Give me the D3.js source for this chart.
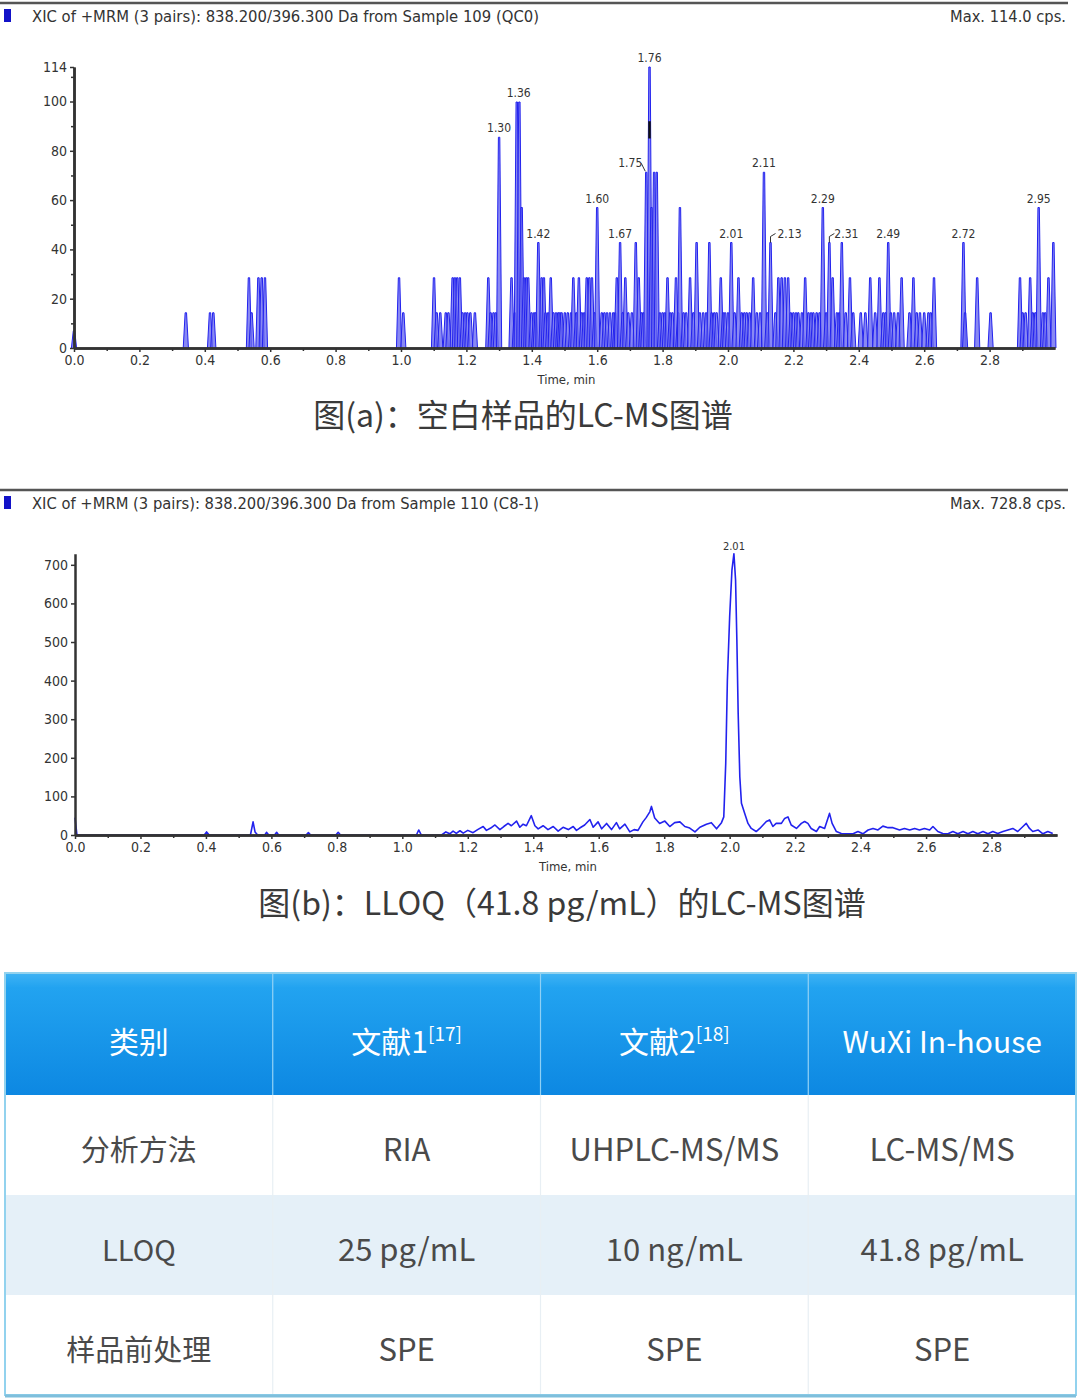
<!DOCTYPE html>
<html>
<head>
<meta charset="utf-8">
<script src="https://cdn.jsdelivr.net/npm/d3@7"></script>
<style>
body { margin: 0; background: #fff; }
svg { display: block; }
</style>
</head>
<body>
<div id="chart"></div>
<script>
// ---- chart (a): blank sample, sampled spikes [time min, intensity cps]
const blankSpikes = [
  [0.000, 7], [0.342, 14.3], [0.416, 14.3], [0.426, 14.3], [0.535, 28.5], [0.543, 14.3], [0.564, 28.5],
  [0.574, 28.5], [0.584, 28.5], [0.994, 28.5], [1.007, 14.3],
  [1.101, 28.5], [1.109, 14.3], [1.120, 14.3], [1.137, 14.3], [1.145, 14.3], [1.158, 28.5], [1.165, 28.5],
  [1.172, 28.5], [1.180, 28.5], [1.188, 14.3], [1.196, 14.3], [1.203, 14.3], [1.212, 14.3], [1.226, 14.3],
  [1.267, 28.5], [1.274, 14.3], [1.283, 14.3], [1.290, 14.3], [1.300, 85.5],
  [1.338, 28.5], [1.348, 14.3], [1.354, 99.8], [1.362, 99.8], [1.369, 57], [1.376, 28.5], [1.383, 28.5],
  [1.389, 28.5], [1.399, 14.3], [1.407, 14.3], [1.412, 14.3], [1.420, 42.8], [1.430, 28.5], [1.437, 28.5],
  [1.442, 14.3], [1.450, 14.3], [1.458, 28.5], [1.466, 14.3], [1.474, 14.3], [1.481, 14.3], [1.486, 14.3],
  [1.491, 14.3], [1.501, 14.3], [1.510, 14.3], [1.520, 14.3], [1.527, 28.5], [1.536, 14.3], [1.544, 28.5],
  [1.553, 14.3], [1.560, 14.3], [1.568, 28.5], [1.576, 28.5], [1.584, 28.5], [1.592, 14.3], [1.600, 57],
  [1.614, 14.3], [1.622, 14.3], [1.630, 14.3], [1.639, 14.3], [1.649, 14.3], [1.655, 14.3], [1.660, 28.5],
  [1.670, 42.8], [1.678, 14.3], [1.686, 28.5], [1.695, 14.3], [1.706, 14.3], [1.718, 42.8], [1.727, 28.5],
  [1.735, 14.3], [1.741, 14.3], [1.750, 71.3], [1.760, 114], [1.766, 57], [1.774, 71.3], [1.782, 71.3],
  [1.792, 14.3], [1.800, 14.3], [1.807, 14.3], [1.815, 28.5], [1.823, 14.3], [1.830, 14.3], [1.841, 28.5],
  [1.848, 14.3], [1.853, 57], [1.864, 14.3], [1.872, 14.3], [1.884, 28.5], [1.894, 14.3], [1.904, 42.8],
  [1.914, 14.3], [1.924, 14.3], [1.933, 14.3], [1.943, 42.8], [1.950, 14.3], [1.958, 14.3], [1.965, 14.3],
  [1.978, 28.5], [1.985, 14.3], [1.991, 14.3], [2.000, 14.3], [2.010, 42.8], [2.020, 14.3], [2.032, 28.5],
  [2.042, 14.3], [2.050, 14.3], [2.057, 14.3], [2.066, 14.3], [2.077, 28.5], [2.088, 14.3], [2.098, 14.3],
  [2.110, 71.3], [2.120, 14.3], [2.130, 42.8], [2.145, 14.3], [2.154, 28.5], [2.164, 28.5], [2.174, 28.5],
  [2.184, 28.5], [2.192, 14.3], [2.200, 14.3], [2.208, 14.3], [2.215, 14.3], [2.226, 14.3], [2.236, 28.5],
  [2.246, 14.3], [2.254, 14.3], [2.261, 14.3], [2.271, 14.3], [2.280, 14.3], [2.290, 57], [2.300, 14.3],
  [2.310, 42.8], [2.320, 28.5], [2.333, 14.3], [2.340, 14.3], [2.348, 42.8], [2.360, 14.3], [2.373, 28.5],
  [2.383, 14.3], [2.406, 14.3], [2.420, 14.3], [2.435, 28.5], [2.450, 14.3], [2.463, 28.5], [2.475, 14.3],
  [2.482, 14.3], [2.490, 42.8], [2.498, 14.3], [2.508, 14.3], [2.520, 14.3], [2.531, 28.5], [2.555, 14.3],
  [2.567, 28.5], [2.577, 14.3], [2.587, 14.3], [2.600, 14.3], [2.613, 14.3], [2.620, 14.3], [2.630, 28.5],
  [2.720, 42.8], [2.725, 14.3], [2.762, 28.5], [2.803, 14.3], [2.893, 28.5], [2.901, 14.3], [2.910, 14.3],
  [2.924, 28.5], [2.932, 14.3], [2.940, 14.3], [2.950, 57], [2.963, 14.3], [2.970, 14.3], [2.980, 28.5],
  [2.995, 42.8]
];
const blankPeakLabels = ["1.30", "1.36", "1.42", "1.60", "1.67", "1.75", "1.76", "2.01", "2.11",
  "2.13", "2.29", "2.31", "2.49", "2.72", "2.95"];

// ---- chart (b): LLOQ sample trace [time min, intensity cps]
const lloqTrace = [
  [0.000, 45], [0.006, 0], [0.395, 0], [0.402, 8], [0.410, 0], [0.536, 0], [0.544, 34], [0.550, 8],
  [0.558, 0], [0.580, 0], [0.585, 7], [0.592, 0], [0.610, 0], [0.616, 7], [0.622, 0], [0.706, 0],
  [0.713, 6], [0.720, 0], [0.797, 0], [0.804, 7], [0.811, 0], [1.043, 0], [1.050, 13], [1.058, 0],
  [1.120, 0], [1.133, 8], [1.145, 3], [1.155, 10], [1.165, 4], [1.176, 11], [1.186, 5], [1.200, 12],
  [1.216, 6], [1.230, 14], [1.247, 22], [1.257, 12], [1.270, 18], [1.283, 26], [1.298, 14], [1.310, 22],
  [1.323, 30], [1.333, 24], [1.349, 36], [1.359, 20], [1.369, 28], [1.379, 24], [1.394, 50], [1.405, 24],
  [1.415, 16], [1.430, 24], [1.445, 14], [1.461, 22], [1.476, 10], [1.491, 20], [1.507, 14], [1.522, 22],
  [1.532, 12], [1.542, 18], [1.557, 26], [1.573, 40], [1.583, 20], [1.598, 34], [1.609, 16], [1.624, 30],
  [1.639, 14], [1.654, 32], [1.664, 16], [1.680, 28], [1.695, 8], [1.708, 14], [1.720, 12], [1.735, 34],
  [1.745, 45], [1.756, 60], [1.761, 74], [1.771, 44], [1.786, 30], [1.802, 36], [1.817, 22], [1.832, 32],
  [1.848, 34], [1.863, 22], [1.878, 18], [1.894, 8], [1.909, 20], [1.929, 28], [1.944, 32], [1.960, 16],
  [1.975, 32], [1.982, 47], [1.988, 186], [1.993, 401], [2.000, 566], [2.007, 687], [2.013, 728.8],
  [2.018, 661], [2.022, 505], [2.026, 315], [2.031, 151], [2.036, 82], [2.046, 56], [2.056, 30],
  [2.066, 17], [2.081, 9], [2.092, 17], [2.102, 26], [2.112, 35], [2.122, 39], [2.132, 22], [2.142, 30],
  [2.158, 30], [2.168, 43], [2.178, 47], [2.188, 26], [2.204, 17], [2.219, 30], [2.229, 35], [2.239, 30],
  [2.249, 17], [2.265, 9], [2.275, 22], [2.290, 17], [2.305, 56], [2.313, 30], [2.326, 9], [2.341, 4],
  [2.356, 3], [2.377, 3], [2.392, 9], [2.407, 3], [2.423, 13], [2.438, 17], [2.453, 13], [2.468, 23],
  [2.484, 19], [2.499, 19], [2.519, 13], [2.534, 17], [2.550, 13], [2.565, 17], [2.580, 13], [2.595, 17],
  [2.611, 13], [2.621, 22], [2.636, 9], [2.651, 4], [2.667, 3], [2.682, 9], [2.697, 3], [2.713, 9],
  [2.728, 3], [2.743, 9], [2.758, 3], [2.774, 9], [2.789, 3], [2.804, 9], [2.819, 4], [2.835, 9],
  [2.850, 13], [2.865, 17], [2.880, 9], [2.896, 22], [2.906, 30], [2.916, 17], [2.926, 9], [2.942, 13],
  [2.957, 3], [2.972, 9], [2.987, 4]
];
const lloqPeakLabels = ["2.01"];

// ---- tick labels
const timeTickLabels = ["0.0", "0.2", "0.4", "0.6", "0.8", "1.0", "1.2", "1.4", "1.6", "1.8",
  "2.0", "2.2", "2.4", "2.6", "2.8"];
const blankTickLabels = ["0", "20", "40", "60", "80", "100", "114"];
const lloqTickLabels = ["0", "100", "200", "300", "400", "500", "600", "700"];

// ---- table
const tableHeads = ["类别", "文献1", "文献2", "WuXi In-house"];
const tableHeadRefs = ["", "[17]", "[18]", ""];
const tableRowNames = ["分析方法", "LLOQ", "样品前处理"];
const tableCells = [
  ["RIA", "UHPLC-MS/MS", "LC-MS/MS"],
  ["25 pg/mL", "10 ng/mL", "41.8 pg/mL"],
  ["SPE", "SPE", "SPE"]
];

const width = 1080;
const height = 1400;
const narrow = '"Liberation Sans Narrow","DejaVu Sans Condensed","Liberation Sans",sans-serif';
const cjk = '"Noto Sans CJK SC","Noto Sans",sans-serif';
const traceBlue = "#2222ee";

const svg = d3.select("#chart").append("svg").attr("width", width).attr("height", height);

// header strip above each chromatogram
function header(y, left, right) {
    svg.append("line").attr("x1", 0).attr("x2", 1068).attr("y1", y).attr("y2", y)
        .attr("stroke", "#555").attr("stroke-width", 2.5);
    svg.append("rect").attr("x", 4).attr("y", y + 6).attr("width", 7).attr("height", 13).attr("fill", "#1212c8");
    svg.append("text").attr("x", 32).attr("y", y + 19).attr("font-family", narrow).attr("font-size", 15)
        .attr("fill", "#333").attr("textLength", 507).attr("lengthAdjust", "spacingAndGlyphs").text(left);
    svg.append("text").attr("x", 950).attr("y", y + 19).attr("font-family", narrow).attr("font-size", 15)
        .attr("fill", "#333").attr("textLength", 116).attr("lengthAdjust", "spacingAndGlyphs").text(right);
}

function styleAxis(g) {
    g.select(".domain").attr("stroke", "#333").attr("stroke-width", 2.5);
    g.selectAll(".tick line").attr("stroke", "#333").attr("stroke-width", 1.5);
    g.selectAll(".tick text").attr("fill", "#333").attr("font-family", narrow).attr("font-size", 14);
}

// axes for one chromatogram
function axes(x, y, yLabels, yMinor) {
    const xAxis = d3.axisBottom(x).tickValues(timeTickLabels.map(Number))
        .tickFormat((d, i) => timeTickLabels[i]).tickSize(4).tickSizeOuter(0).tickPadding(3);
    const xMinor = d3.axisBottom(x).tickValues(timeTickLabels.map(d => +d + 0.1))
        .tickFormat("").tickSize(3).tickSizeOuter(0);
    const yAxis = d3.axisLeft(y).tickValues(yLabels.map(Number))
        .tickFormat((d, i) => yLabels[i]).tickSize(4).tickSizeOuter(0).tickPadding(3);

    const base = y(0);
    svg.append("g").attr("transform", `translate(0,${base})`).call(xMinor).call(styleAxis);
    svg.append("g").attr("transform", `translate(0,${base})`).call(xAxis).call(styleAxis);
    if (yMinor) {
        svg.append("g").attr("transform", `translate(${x(0)},0)`)
            .call(d3.axisLeft(y).tickValues(yMinor).tickFormat("").tickSize(3).tickSizeOuter(0)).call(styleAxis);
    }
    svg.append("g").attr("transform", `translate(${x(0)},0)`).call(yAxis).call(styleAxis);

    svg.append("text").attr("x", x(1.5) + 2).attr("y", base + 36).attr("text-anchor", "middle")
        .attr("font-family", narrow).attr("font-size", 13).attr("fill", "#333").text("Time, min");
}

function caption(x, y, text) {
    svg.append("text").attr("x", x).attr("y", y).attr("text-anchor", "middle")
        .attr("font-family", cjk).attr("font-size", 32).attr("fill", "#3a3a3a").text(text);
}

// ================= chart (a)
header(3, "XIC of +MRM (3 pairs): 838.200/396.300 Da  from Sample 109 (QC0)", "Max. 114.0 cps.");

const xA = d3.scaleLinear().domain([0, 3]).range([74, 1055]);
const yA = d3.scaleLinear().domain([0, 114]).range([348, 67]);

const spikeLine = d3.line();
svg.append("g").selectAll("path")
    .data(blankSpikes)
    .join("path")
    .attr("d", ([t, v]) => spikeLine([
        [xA(t) - 2.6, yA(0)], [xA(t) - 0.7, yA(v)], [xA(t) + 0.7, yA(v)], [xA(t) + 2.6, yA(0)]
    ]))
    .attr("fill", "#6c6cf0")
    .attr("fill-opacity", 0.8)
    .attr("stroke", traceBlue)
    .attr("stroke-width", 1);

// apex marker on the tallest peak
svg.append("line").attr("x1", xA(1.76)).attr("x2", xA(1.76)).attr("y1", yA(92)).attr("y2", yA(85))
    .attr("stroke", "#111").attr("stroke-width", 2.5);

axes(xA, yA, blankTickLabels, [10, 30, 50, 70, 90, 110]);

// peak labels (some pushed aside with a leader)
const leaderShift = { "1.75": -16, "2.13": 19, "2.31": 17 };
blankPeakLabels.forEach(lbl => {
    const t = +lbl;
    const near = blankSpikes.filter(d => Math.abs(d[0] - t) < 0.009);
    const top = d3.max(near, d => d[1]);
    const px = xA(t);
    const py = yA(top);
    const dx = leaderShift[lbl] || 0;
    svg.append("text").attr("x", px + dx).attr("y", py - 5).attr("text-anchor", "middle")
        .attr("font-family", narrow).attr("font-size", 12).attr("fill", "#333").text(lbl);
    if (dx < 0) {
        svg.append("path").attr("d", `M${px + dx + 11},${py - 9}L${px - 1},${py - 1}`)
            .attr("stroke", "#333").attr("fill", "none");
    } else if (dx > 0) {
        svg.append("path").attr("d", `M${px},${py}L${px},${py - 6}L${px + 5},${py - 9}`)
            .attr("stroke", "#333").attr("fill", "none");
    }
});

caption(523, 427, "图(a)：空白样品的LC-MS图谱");

// ================= chart (b)
header(490, "XIC of +MRM (3 pairs): 838.200/396.300 Da  from Sample 110 (C8-1)", "Max. 728.8 cps.");

const xB = d3.scaleLinear().domain([0, 3]).range([75, 1057]);
const yB = d3.scaleLinear().domain([0, 728.8]).range([835, 553.7]);

svg.append("path")
    .datum(lloqTrace)
    .attr("d", d3.line().x(d => xB(d[0])).y(d => yB(d[1])))
    .attr("fill", "none")
    .attr("stroke", traceBlue)
    .attr("stroke-width", 1.6)
    .attr("stroke-linejoin", "round");

axes(xB, yB, lloqTickLabels, null);

lloqPeakLabels.forEach(lbl => {
    const top = lloqTrace[d3.greatestIndex(lloqTrace, d => d[1])];
    svg.append("text").attr("x", xB(top[0])).attr("y", yB(top[1]) - 4).attr("text-anchor", "middle")
        .attr("font-family", narrow).attr("font-size", 11).attr("fill", "#333").text(lbl);
});

caption(562, 915, "图(b)：LLOQ（41.8 pg/mL）的LC-MS图谱");

// ================= comparison table
const colX = d3.scaleBand().domain(d3.range(tableHeads.length)).range([5, 1076]);
const rowY = d3.scaleBand().domain(d3.range(tableRowNames.length)).range([1095, 1395]);
const headTop = 973;

const defs = svg.append("defs");
const grad = defs.append("linearGradient").attr("id", "headGrad").attr("x1", 0).attr("y1", 0).attr("x2", 0).attr("y2", 1);
grad.append("stop").attr("offset", "0%").attr("stop-color", "#3fb3f4");
grad.append("stop").attr("offset", "12%").attr("stop-color", "#22a3f0");
grad.append("stop").attr("offset", "100%").attr("stop-color", "#0d88e2");

const table = svg.append("g");

// body rows
table.selectAll("rect.row").data(tableRowNames).join("rect")
    .attr("x", 5).attr("width", 1071)
    .attr("y", (d, i) => rowY(i)).attr("height", rowY.bandwidth())
    .attr("fill", (d, i) => i % 2 === 1 ? "#e5f0f8" : "#ffffff");

// header cells
table.selectAll("rect.head").data(tableHeads).join("rect")
    .attr("x", (d, i) => colX(i)).attr("width", colX.bandwidth())
    .attr("y", headTop).attr("height", 1095 - headTop)
    .attr("fill", "url(#headGrad)");

// column dividers
table.selectAll("line.vdiv").data(d3.range(1, tableHeads.length)).join("line")
    .attr("x1", i => colX(i)).attr("x2", i => colX(i))
    .attr("y1", headTop).attr("y2", 1095).attr("stroke", "#8fd0f5").attr("stroke-width", 1.2);
table.selectAll("line.vdiv2").data(d3.range(1, tableHeads.length)).join("line")
    .attr("x1", i => colX(i)).attr("x2", i => colX(i))
    .attr("y1", 1095).attr("y2", 1395).attr("stroke", "#e8eff4").attr("stroke-width", 1.2);

// outer frame
table.append("rect").attr("x", 5).attr("y", headTop).attr("width", 1071).attr("height", 1395 - headTop)
    .attr("fill", "none").attr("stroke", "#92d2ee").attr("stroke-width", 2);
table.append("line").attr("x1", 5).attr("x2", 1076).attr("y1", 1396).attr("y2", 1396)
    .attr("stroke", "#7fbfdc").attr("stroke-width", 3);

// header text
tableHeads.forEach((h, i) => {
    const t = table.append("text")
        .attr("x", colX(i) + colX.bandwidth() / 2).attr("y", 1053)
        .attr("text-anchor", "middle").attr("font-family", cjk).attr("font-size", 30)
        .attr("fill", "#ffffff").text(h);
    if (tableHeadRefs[i]) {
        t.append("tspan").attr("font-size", 19).attr("dy", -12).text(tableHeadRefs[i]);
    }
});

// body text
tableRowNames.forEach((name, r) => {
    const yMid = rowY(r) + rowY.bandwidth() / 2 + 16;
    table.append("text").attr("x", colX(0) + colX.bandwidth() / 2).attr("y", yMid)
        .attr("text-anchor", "middle").attr("font-family", cjk).attr("font-size", 29)
        .attr("fill", "#4a4a4a").text(name);
    tableCells[r].forEach((c, j) => {
        table.append("text").attr("x", colX(j + 1) + colX.bandwidth() / 2).attr("y", yMid)
            .attr("text-anchor", "middle").attr("font-family", cjk).attr("font-size", 31)
            .attr("fill", "#4a4a4a").text(c);
    });
});
</script>
</body>
</html>
